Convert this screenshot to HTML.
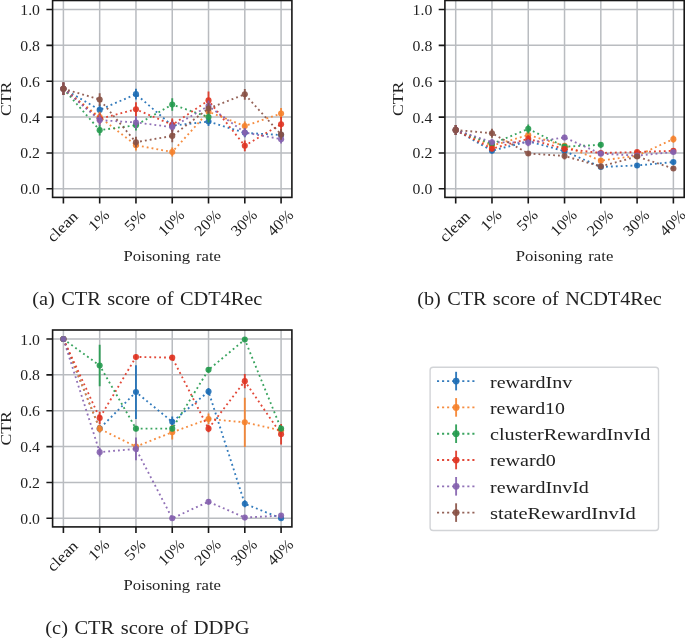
<!DOCTYPE html>
<html><head><meta charset="utf-8"><title>CTR score</title>
<style>html,body{margin:0;padding:0;background:#fff}svg{display:block}</style></head>
<body>
<svg width="685" height="639" viewBox="0 0 685 639" font-family="'Liberation Serif', serif" fill="#222">
<g transform="translate(0,0)">
<path d="M63.40 0.5V197.4M99.68 0.5V197.4M135.96 0.5V197.4M172.24 0.5V197.4M208.52 0.5V197.4M244.80 0.5V197.4M281.08 0.5V197.4M52.6 188.80H291.9M52.6 152.94H291.9M52.6 117.08H291.9M52.6 81.22H291.9M52.6 45.36H291.9M52.6 9.50H291.9" stroke="#b9bcc0" stroke-width="1.5" fill="none"/>
<g stroke="#1d6db5" fill="#1d6db5" stroke-opacity="0.9" fill-opacity="0.9">
<polyline points="63.40,88.75 99.68,109.91 135.96,94.13 172.24,125.69 208.52,121.56 244.80,132.86 281.08,135.01" fill="none" stroke-width="1.85" stroke-dasharray="1.85 3.05"/>
<path d="M63.40 82.48V95.03M99.68 104.53V115.29M135.96 88.75V99.51M172.24 120.31V131.07M208.52 117.08V126.05M244.80 128.38V137.34M281.08 130.53V139.49" stroke-width="1.9" fill="none"/>
<circle cx="63.40" cy="88.75" r="3.05" stroke="none"/>
<circle cx="99.68" cy="109.91" r="3.05" stroke="none"/>
<circle cx="135.96" cy="94.13" r="3.05" stroke="none"/>
<circle cx="172.24" cy="125.69" r="3.05" stroke="none"/>
<circle cx="208.52" cy="121.56" r="3.05" stroke="none"/>
<circle cx="244.80" cy="132.86" r="3.05" stroke="none"/>
<circle cx="281.08" cy="135.01" r="3.05" stroke="none"/>
</g>
<g stroke="#f5812b" fill="#f5812b" stroke-opacity="0.9" fill-opacity="0.9">
<polyline points="63.40,88.75 99.68,117.08 135.96,145.23 172.24,152.04 208.52,111.70 244.80,126.05 281.08,113.49" fill="none" stroke-width="1.85" stroke-dasharray="1.85 3.05"/>
<path d="M63.40 82.48V95.03M99.68 111.70V122.46M135.96 139.85V150.61M172.24 147.56V156.53M208.52 106.32V117.08M244.80 121.56V130.53M281.08 108.12V118.87" stroke-width="1.9" fill="none"/>
<circle cx="63.40" cy="88.75" r="3.05" stroke="none"/>
<circle cx="99.68" cy="117.08" r="3.05" stroke="none"/>
<circle cx="135.96" cy="145.23" r="3.05" stroke="none"/>
<circle cx="172.24" cy="152.04" r="3.05" stroke="none"/>
<circle cx="208.52" cy="111.70" r="3.05" stroke="none"/>
<circle cx="244.80" cy="126.05" r="3.05" stroke="none"/>
<circle cx="281.08" cy="113.49" r="3.05" stroke="none"/>
</g>
<g stroke="#249a4e" fill="#249a4e" stroke-opacity="0.9" fill-opacity="0.9">
<polyline points="63.40,88.75 99.68,130.17 135.96,125.15 172.24,104.53 208.52,117.08" fill="none" stroke-width="1.85" stroke-dasharray="1.85 3.05"/>
<path d="M63.40 82.48V95.03M99.68 124.79V135.55M135.96 119.77V130.53M172.24 98.25V110.80M208.52 111.70V122.46" stroke-width="1.9" fill="none"/>
<circle cx="63.40" cy="88.75" r="3.05" stroke="none"/>
<circle cx="99.68" cy="130.17" r="3.05" stroke="none"/>
<circle cx="135.96" cy="125.15" r="3.05" stroke="none"/>
<circle cx="172.24" cy="104.53" r="3.05" stroke="none"/>
<circle cx="208.52" cy="117.08" r="3.05" stroke="none"/>
</g>
<g stroke="#df3422" fill="#df3422" stroke-opacity="0.9" fill-opacity="0.9">
<polyline points="63.40,88.75 99.68,118.87 135.96,109.37 172.24,124.79 208.52,100.41 244.80,145.77 281.08,124.25" fill="none" stroke-width="1.85" stroke-dasharray="1.85 3.05"/>
<path d="M63.40 82.48V95.03M99.68 113.49V124.25M135.96 102.20V116.54M172.24 118.51V131.07M208.52 91.44V109.37M244.80 140.39V151.15M281.08 117.08V131.42" stroke-width="1.9" fill="none"/>
<circle cx="63.40" cy="88.75" r="3.05" stroke="none"/>
<circle cx="99.68" cy="118.87" r="3.05" stroke="none"/>
<circle cx="135.96" cy="109.37" r="3.05" stroke="none"/>
<circle cx="172.24" cy="124.79" r="3.05" stroke="none"/>
<circle cx="208.52" cy="100.41" r="3.05" stroke="none"/>
<circle cx="244.80" cy="145.77" r="3.05" stroke="none"/>
<circle cx="281.08" cy="124.25" r="3.05" stroke="none"/>
</g>
<g stroke="#8460ae" fill="#8460ae" stroke-opacity="0.9" fill-opacity="0.9">
<polyline points="63.40,88.75 99.68,120.13 135.96,122.46 172.24,127.12 208.52,105.96 244.80,132.50 281.08,139.13" fill="none" stroke-width="1.85" stroke-dasharray="1.85 3.05"/>
<path d="M63.40 82.48V95.03M99.68 114.75V125.51M135.96 116.18V128.73M172.24 121.74V132.50M208.52 100.58V111.34M244.80 128.02V136.98M281.08 134.65V143.62" stroke-width="1.9" fill="none"/>
<circle cx="63.40" cy="88.75" r="3.05" stroke="none"/>
<circle cx="99.68" cy="120.13" r="3.05" stroke="none"/>
<circle cx="135.96" cy="122.46" r="3.05" stroke="none"/>
<circle cx="172.24" cy="127.12" r="3.05" stroke="none"/>
<circle cx="208.52" cy="105.96" r="3.05" stroke="none"/>
<circle cx="244.80" cy="132.50" r="3.05" stroke="none"/>
<circle cx="281.08" cy="139.13" r="3.05" stroke="none"/>
</g>
<g stroke="#885145" fill="#885145" stroke-opacity="0.9" fill-opacity="0.9">
<polyline points="63.40,88.75 99.68,99.51 135.96,142.18 172.24,135.91 208.52,108.47 244.80,94.31 281.08,134.47" fill="none" stroke-width="1.85" stroke-dasharray="1.85 3.05"/>
<path d="M63.40 82.48V95.03M99.68 93.23V105.78M135.96 136.80V147.56M172.24 129.63V142.18M208.52 103.09V113.85M244.80 88.93V99.69M281.08 129.09V139.85" stroke-width="1.9" fill="none"/>
<circle cx="63.40" cy="88.75" r="3.05" stroke="none"/>
<circle cx="99.68" cy="99.51" r="3.05" stroke="none"/>
<circle cx="135.96" cy="142.18" r="3.05" stroke="none"/>
<circle cx="172.24" cy="135.91" r="3.05" stroke="none"/>
<circle cx="208.52" cy="108.47" r="3.05" stroke="none"/>
<circle cx="244.80" cy="94.31" r="3.05" stroke="none"/>
<circle cx="281.08" cy="134.47" r="3.05" stroke="none"/>
</g>
<rect x="52.6" y="0.5" width="239.30" height="196.90" fill="none" stroke="#181818" stroke-width="1.6"/>
<path d="M63.40 197.4v6.2M99.68 197.4v6.2M135.96 197.4v6.2M172.24 197.4v6.2M208.52 197.4v6.2M244.80 197.4v6.2M281.08 197.4v6.2M52.6 188.80h-6.2M52.6 152.94h-6.2M52.6 117.08h-6.2M52.6 81.22h-6.2M52.6 45.36h-6.2M52.6 9.50h-6.2" stroke="#181818" stroke-width="1.6" fill="none"/>
<text x="20.3" y="194.30" font-size="14.6" textLength="19.7" lengthAdjust="spacingAndGlyphs">0.0</text>
<text x="20.3" y="158.44" font-size="14.6" textLength="19.7" lengthAdjust="spacingAndGlyphs">0.2</text>
<text x="20.3" y="122.58" font-size="14.6" textLength="19.7" lengthAdjust="spacingAndGlyphs">0.4</text>
<text x="20.3" y="86.72" font-size="14.6" textLength="19.7" lengthAdjust="spacingAndGlyphs">0.6</text>
<text x="20.3" y="50.86" font-size="14.6" textLength="19.7" lengthAdjust="spacingAndGlyphs">0.8</text>
<text x="20.3" y="15.00" font-size="14.6" textLength="19.7" lengthAdjust="spacingAndGlyphs">1.0</text>
<text transform="translate(66.05,230.16) rotate(-45)" x="-18.19" font-size="15.4" textLength="36.38" lengthAdjust="spacingAndGlyphs">clean</text>
<text transform="translate(102.33,223.92) rotate(-45)" x="-11.50" font-size="15.4" textLength="22.99" lengthAdjust="spacingAndGlyphs">1%</text>
<text transform="translate(138.61,223.92) rotate(-45)" x="-11.50" font-size="15.4" textLength="22.99" lengthAdjust="spacingAndGlyphs">5%</text>
<text transform="translate(174.89,226.37) rotate(-45)" x="-14.96" font-size="15.4" textLength="29.92" lengthAdjust="spacingAndGlyphs">10%</text>
<text transform="translate(211.17,226.37) rotate(-45)" x="-14.96" font-size="15.4" textLength="29.92" lengthAdjust="spacingAndGlyphs">20%</text>
<text transform="translate(247.45,226.37) rotate(-45)" x="-14.96" font-size="15.4" textLength="29.92" lengthAdjust="spacingAndGlyphs">30%</text>
<text transform="translate(283.73,226.37) rotate(-45)" x="-14.96" font-size="15.4" textLength="29.92" lengthAdjust="spacingAndGlyphs">40%</text>
<text transform="translate(11,98.8) rotate(-90)" text-anchor="middle" font-size="15" textLength="34.2" lengthAdjust="spacingAndGlyphs">CTR</text>
<text x="123.4" y="260.7" font-size="14.3" word-spacing="1.5" textLength="97.6" lengthAdjust="spacingAndGlyphs">Poisoning rate</text>
</g>
<text x="32.2" y="304.6" font-size="19.8" word-spacing="1.3" textLength="230.2" lengthAdjust="spacingAndGlyphs">(a) CTR score of CDT4Rec</text>
<g transform="translate(392.3,0)">
<path d="M63.40 0.5V197.4M99.68 0.5V197.4M135.96 0.5V197.4M172.24 0.5V197.4M208.52 0.5V197.4M244.80 0.5V197.4M281.08 0.5V197.4M52.6 188.80H291.9M52.6 152.94H291.9M52.6 117.08H291.9M52.6 81.22H291.9M52.6 45.36H291.9M52.6 9.50H291.9" stroke="#b9bcc0" stroke-width="1.5" fill="none"/>
<g stroke="#1d6db5" fill="#1d6db5" stroke-opacity="0.9" fill-opacity="0.9">
<polyline points="63.40,129.99 99.68,150.79 135.96,141.29 172.24,151.15 208.52,166.93 244.80,165.49 281.08,162.08" fill="none" stroke-width="1.85" stroke-dasharray="1.85 3.05"/>
<path d="M63.40 124.97V135.01M99.68 148.10V153.48M135.96 138.60V143.98M172.24 148.46V153.84M208.52 164.77V169.08M244.80 163.34V167.64M281.08 159.93V164.24" stroke-width="1.9" fill="none"/>
<circle cx="63.40" cy="129.99" r="3.05" stroke="none"/>
<circle cx="99.68" cy="150.79" r="3.05" stroke="none"/>
<circle cx="135.96" cy="141.29" r="3.05" stroke="none"/>
<circle cx="172.24" cy="151.15" r="3.05" stroke="none"/>
<circle cx="208.52" cy="166.93" r="3.05" stroke="none"/>
<circle cx="244.80" cy="165.49" r="3.05" stroke="none"/>
<circle cx="281.08" cy="162.08" r="3.05" stroke="none"/>
</g>
<g stroke="#f5812b" fill="#f5812b" stroke-opacity="0.9" fill-opacity="0.9">
<polyline points="63.40,129.99 99.68,145.77 135.96,135.01 172.24,145.77 208.52,160.65 244.80,155.63 281.08,139.13" fill="none" stroke-width="1.85" stroke-dasharray="1.85 3.05"/>
<path d="M63.40 124.97V135.01M99.68 143.08V148.46M135.96 131.42V138.60M172.24 143.08V148.46M208.52 158.50V162.80M244.80 153.48V157.78M281.08 135.55V142.72" stroke-width="1.9" fill="none"/>
<circle cx="63.40" cy="129.99" r="3.05" stroke="none"/>
<circle cx="99.68" cy="145.77" r="3.05" stroke="none"/>
<circle cx="135.96" cy="135.01" r="3.05" stroke="none"/>
<circle cx="172.24" cy="145.77" r="3.05" stroke="none"/>
<circle cx="208.52" cy="160.65" r="3.05" stroke="none"/>
<circle cx="244.80" cy="155.63" r="3.05" stroke="none"/>
<circle cx="281.08" cy="139.13" r="3.05" stroke="none"/>
</g>
<g stroke="#249a4e" fill="#249a4e" stroke-opacity="0.9" fill-opacity="0.9">
<polyline points="63.40,129.99 99.68,143.98 135.96,128.91 172.24,146.66 208.52,144.87" fill="none" stroke-width="1.85" stroke-dasharray="1.85 3.05"/>
<path d="M63.40 124.97V135.01M99.68 141.29V146.66M135.96 124.43V133.40M172.24 143.98V149.35M208.52 142.18V147.56" stroke-width="1.9" fill="none"/>
<circle cx="63.40" cy="129.99" r="3.05" stroke="none"/>
<circle cx="99.68" cy="143.98" r="3.05" stroke="none"/>
<circle cx="135.96" cy="128.91" r="3.05" stroke="none"/>
<circle cx="172.24" cy="146.66" r="3.05" stroke="none"/>
<circle cx="208.52" cy="144.87" r="3.05" stroke="none"/>
</g>
<g stroke="#df3422" fill="#df3422" stroke-opacity="0.9" fill-opacity="0.9">
<polyline points="63.40,129.99 99.68,148.64 135.96,138.78 172.24,149.00 208.52,152.94 244.80,152.04 281.08,150.79" fill="none" stroke-width="1.85" stroke-dasharray="1.85 3.05"/>
<path d="M63.40 124.97V135.01M99.68 145.95V151.33M135.96 135.19V142.36M172.24 146.31V151.68M208.52 150.79V155.09M244.80 149.89V154.20M281.08 148.64V152.94" stroke-width="1.9" fill="none"/>
<circle cx="63.40" cy="129.99" r="3.05" stroke="none"/>
<circle cx="99.68" cy="148.64" r="3.05" stroke="none"/>
<circle cx="135.96" cy="138.78" r="3.05" stroke="none"/>
<circle cx="172.24" cy="149.00" r="3.05" stroke="none"/>
<circle cx="208.52" cy="152.94" r="3.05" stroke="none"/>
<circle cx="244.80" cy="152.04" r="3.05" stroke="none"/>
<circle cx="281.08" cy="150.79" r="3.05" stroke="none"/>
</g>
<g stroke="#8460ae" fill="#8460ae" stroke-opacity="0.9" fill-opacity="0.9">
<polyline points="63.40,129.99 99.68,142.18 135.96,142.72 172.24,137.52 208.52,153.66 244.80,155.63 281.08,152.04" fill="none" stroke-width="1.85" stroke-dasharray="1.85 3.05"/>
<path d="M63.40 124.97V135.01M99.68 139.49V144.87M135.96 139.13V146.31M172.24 134.83V140.21M208.52 151.51V155.81M244.80 153.48V157.78M281.08 149.89V154.20" stroke-width="1.9" fill="none"/>
<circle cx="63.40" cy="129.99" r="3.05" stroke="none"/>
<circle cx="99.68" cy="142.18" r="3.05" stroke="none"/>
<circle cx="135.96" cy="142.72" r="3.05" stroke="none"/>
<circle cx="172.24" cy="137.52" r="3.05" stroke="none"/>
<circle cx="208.52" cy="153.66" r="3.05" stroke="none"/>
<circle cx="244.80" cy="155.63" r="3.05" stroke="none"/>
<circle cx="281.08" cy="152.04" r="3.05" stroke="none"/>
</g>
<g stroke="#885145" fill="#885145" stroke-opacity="0.9" fill-opacity="0.9">
<polyline points="63.40,129.99 99.68,133.22 135.96,153.48 172.24,155.99 208.52,166.39 244.80,156.53 281.08,168.54" fill="none" stroke-width="1.85" stroke-dasharray="1.85 3.05"/>
<path d="M63.40 124.97V135.01M99.68 128.73V137.70M135.96 151.33V155.63M172.24 152.40V159.57M208.52 164.24V168.54M244.80 154.37V158.68M281.08 166.39V170.69" stroke-width="1.9" fill="none"/>
<circle cx="63.40" cy="129.99" r="3.05" stroke="none"/>
<circle cx="99.68" cy="133.22" r="3.05" stroke="none"/>
<circle cx="135.96" cy="153.48" r="3.05" stroke="none"/>
<circle cx="172.24" cy="155.99" r="3.05" stroke="none"/>
<circle cx="208.52" cy="166.39" r="3.05" stroke="none"/>
<circle cx="244.80" cy="156.53" r="3.05" stroke="none"/>
<circle cx="281.08" cy="168.54" r="3.05" stroke="none"/>
</g>
<rect x="52.6" y="0.5" width="239.30" height="196.90" fill="none" stroke="#181818" stroke-width="1.6"/>
<path d="M63.40 197.4v6.2M99.68 197.4v6.2M135.96 197.4v6.2M172.24 197.4v6.2M208.52 197.4v6.2M244.80 197.4v6.2M281.08 197.4v6.2M52.6 188.80h-6.2M52.6 152.94h-6.2M52.6 117.08h-6.2M52.6 81.22h-6.2M52.6 45.36h-6.2M52.6 9.50h-6.2" stroke="#181818" stroke-width="1.6" fill="none"/>
<text x="20.3" y="194.30" font-size="14.6" textLength="19.7" lengthAdjust="spacingAndGlyphs">0.0</text>
<text x="20.3" y="158.44" font-size="14.6" textLength="19.7" lengthAdjust="spacingAndGlyphs">0.2</text>
<text x="20.3" y="122.58" font-size="14.6" textLength="19.7" lengthAdjust="spacingAndGlyphs">0.4</text>
<text x="20.3" y="86.72" font-size="14.6" textLength="19.7" lengthAdjust="spacingAndGlyphs">0.6</text>
<text x="20.3" y="50.86" font-size="14.6" textLength="19.7" lengthAdjust="spacingAndGlyphs">0.8</text>
<text x="20.3" y="15.00" font-size="14.6" textLength="19.7" lengthAdjust="spacingAndGlyphs">1.0</text>
<text transform="translate(66.05,230.16) rotate(-45)" x="-18.19" font-size="15.4" textLength="36.38" lengthAdjust="spacingAndGlyphs">clean</text>
<text transform="translate(102.33,223.92) rotate(-45)" x="-11.50" font-size="15.4" textLength="22.99" lengthAdjust="spacingAndGlyphs">1%</text>
<text transform="translate(138.61,223.92) rotate(-45)" x="-11.50" font-size="15.4" textLength="22.99" lengthAdjust="spacingAndGlyphs">5%</text>
<text transform="translate(174.89,226.37) rotate(-45)" x="-14.96" font-size="15.4" textLength="29.92" lengthAdjust="spacingAndGlyphs">10%</text>
<text transform="translate(211.17,226.37) rotate(-45)" x="-14.96" font-size="15.4" textLength="29.92" lengthAdjust="spacingAndGlyphs">20%</text>
<text transform="translate(247.45,226.37) rotate(-45)" x="-14.96" font-size="15.4" textLength="29.92" lengthAdjust="spacingAndGlyphs">30%</text>
<text transform="translate(283.73,226.37) rotate(-45)" x="-14.96" font-size="15.4" textLength="29.92" lengthAdjust="spacingAndGlyphs">40%</text>
<text transform="translate(11,98.8) rotate(-90)" text-anchor="middle" font-size="15" textLength="34.2" lengthAdjust="spacingAndGlyphs">CTR</text>
<text x="123.4" y="260.7" font-size="14.3" word-spacing="1.5" textLength="97.6" lengthAdjust="spacingAndGlyphs">Poisoning rate</text>
</g>
<text x="417.2" y="304.6" font-size="19.8" word-spacing="1.3" textLength="244.6" lengthAdjust="spacingAndGlyphs">(b) CTR score of NCDT4Rec</text>
<g transform="translate(0,329.5)">
<path d="M63.40 0.5V197.4M99.68 0.5V197.4M135.96 0.5V197.4M172.24 0.5V197.4M208.52 0.5V197.4M244.80 0.5V197.4M281.08 0.5V197.4M52.6 188.80H291.9M52.6 152.94H291.9M52.6 117.08H291.9M52.6 81.22H291.9M52.6 45.36H291.9M52.6 9.50H291.9" stroke="#b9bcc0" stroke-width="1.5" fill="none"/>
<g stroke="#1d6db5" fill="#1d6db5" stroke-opacity="0.9" fill-opacity="0.9">
<polyline points="63.40,9.50 99.68,99.15 135.96,62.57 172.24,92.34 208.52,62.03 244.80,174.28 281.08,188.80" fill="none" stroke-width="1.85" stroke-dasharray="1.85 3.05"/>
<path d="M99.68 95.56V102.74M135.96 35.68V89.47M172.24 86.96V97.72M208.52 58.45V65.62M244.80 170.69V177.86M281.08 187.01V190.59" stroke-width="1.9" fill="none"/>
<circle cx="63.40" cy="9.50" r="3.05" stroke="none"/>
<circle cx="99.68" cy="99.15" r="3.05" stroke="none"/>
<circle cx="135.96" cy="62.57" r="3.05" stroke="none"/>
<circle cx="172.24" cy="92.34" r="3.05" stroke="none"/>
<circle cx="208.52" cy="62.03" r="3.05" stroke="none"/>
<circle cx="244.80" cy="174.28" r="3.05" stroke="none"/>
<circle cx="281.08" cy="188.80" r="3.05" stroke="none"/>
</g>
<g stroke="#f5812b" fill="#f5812b" stroke-opacity="0.9" fill-opacity="0.9">
<polyline points="63.40,9.50 99.68,99.33 135.96,117.08 172.24,102.74 208.52,89.47 244.80,92.87 281.08,100.94" fill="none" stroke-width="1.85" stroke-dasharray="1.85 3.05"/>
<path d="M99.68 95.74V102.92M135.96 111.70V122.46M172.24 95.56V109.91M208.52 84.09V94.85M244.80 68.31V117.44M281.08 97.36V104.53" stroke-width="1.9" fill="none"/>
<circle cx="63.40" cy="9.50" r="3.05" stroke="none"/>
<circle cx="99.68" cy="99.33" r="3.05" stroke="none"/>
<circle cx="135.96" cy="117.08" r="3.05" stroke="none"/>
<circle cx="172.24" cy="102.74" r="3.05" stroke="none"/>
<circle cx="208.52" cy="89.47" r="3.05" stroke="none"/>
<circle cx="244.80" cy="92.87" r="3.05" stroke="none"/>
<circle cx="281.08" cy="100.94" r="3.05" stroke="none"/>
</g>
<g stroke="#df3422" fill="#df3422" stroke-opacity="0.9" fill-opacity="0.9">
<polyline points="63.40,9.50 99.68,88.57 135.96,27.43 172.24,28.15 208.52,99.15 244.80,51.64 281.08,104.71" fill="none" stroke-width="1.85" stroke-dasharray="1.85 3.05"/>
<path d="M99.68 82.30V94.85M135.96 24.74V30.12M172.24 25.46V30.84M208.52 95.56V102.74M244.80 44.46V58.81M281.08 94.49V114.93" stroke-width="1.9" fill="none"/>
<circle cx="63.40" cy="9.50" r="3.05" stroke="none"/>
<circle cx="99.68" cy="88.57" r="3.05" stroke="none"/>
<circle cx="135.96" cy="27.43" r="3.05" stroke="none"/>
<circle cx="172.24" cy="28.15" r="3.05" stroke="none"/>
<circle cx="208.52" cy="99.15" r="3.05" stroke="none"/>
<circle cx="244.80" cy="51.64" r="3.05" stroke="none"/>
<circle cx="281.08" cy="104.71" r="3.05" stroke="none"/>
</g>
<g stroke="#249a4e" fill="#249a4e" stroke-opacity="0.9" fill-opacity="0.9">
<polyline points="63.40,9.50 99.68,36.04 135.96,99.15 172.24,99.15 208.52,40.34 244.80,10.04 281.08,99.15" fill="none" stroke-width="1.85" stroke-dasharray="1.85 3.05"/>
<path d="M99.68 15.24V56.84M135.96 96.46V101.84M172.24 96.46V101.84M208.52 37.65V43.03M244.80 8.24V11.83M281.08 97.36V100.94" stroke-width="1.9" fill="none"/>
<circle cx="63.40" cy="9.50" r="3.05" stroke="none"/>
<circle cx="99.68" cy="36.04" r="3.05" stroke="none"/>
<circle cx="135.96" cy="99.15" r="3.05" stroke="none"/>
<circle cx="172.24" cy="99.15" r="3.05" stroke="none"/>
<circle cx="208.52" cy="40.34" r="3.05" stroke="none"/>
<circle cx="244.80" cy="10.04" r="3.05" stroke="none"/>
<circle cx="281.08" cy="99.15" r="3.05" stroke="none"/>
</g>
<g stroke="#8460ae" fill="#8460ae" stroke-opacity="0.9" fill-opacity="0.9">
<polyline points="63.40,9.50 99.68,122.64 135.96,119.41 172.24,188.80 208.52,172.20 244.80,188.08 281.08,186.11" fill="none" stroke-width="1.85" stroke-dasharray="1.85 3.05"/>
<path d="M99.68 118.16V127.12M135.96 108.12V130.71M172.24 187.01V190.59M208.52 169.51V174.89M244.80 186.29V189.88M281.08 184.32V187.90" stroke-width="1.9" fill="none"/>
<circle cx="63.40" cy="9.50" r="3.05" stroke="none"/>
<circle cx="99.68" cy="122.64" r="3.05" stroke="none"/>
<circle cx="135.96" cy="119.41" r="3.05" stroke="none"/>
<circle cx="172.24" cy="188.80" r="3.05" stroke="none"/>
<circle cx="208.52" cy="172.20" r="3.05" stroke="none"/>
<circle cx="244.80" cy="188.08" r="3.05" stroke="none"/>
<circle cx="281.08" cy="186.11" r="3.05" stroke="none"/>
</g>
<rect x="52.6" y="0.5" width="239.30" height="196.90" fill="none" stroke="#181818" stroke-width="1.6"/>
<path d="M63.40 197.4v6.2M99.68 197.4v6.2M135.96 197.4v6.2M172.24 197.4v6.2M208.52 197.4v6.2M244.80 197.4v6.2M281.08 197.4v6.2M52.6 188.80h-6.2M52.6 152.94h-6.2M52.6 117.08h-6.2M52.6 81.22h-6.2M52.6 45.36h-6.2M52.6 9.50h-6.2" stroke="#181818" stroke-width="1.6" fill="none"/>
<text x="20.3" y="194.30" font-size="14.6" textLength="19.7" lengthAdjust="spacingAndGlyphs">0.0</text>
<text x="20.3" y="158.44" font-size="14.6" textLength="19.7" lengthAdjust="spacingAndGlyphs">0.2</text>
<text x="20.3" y="122.58" font-size="14.6" textLength="19.7" lengthAdjust="spacingAndGlyphs">0.4</text>
<text x="20.3" y="86.72" font-size="14.6" textLength="19.7" lengthAdjust="spacingAndGlyphs">0.6</text>
<text x="20.3" y="50.86" font-size="14.6" textLength="19.7" lengthAdjust="spacingAndGlyphs">0.8</text>
<text x="20.3" y="15.00" font-size="14.6" textLength="19.7" lengthAdjust="spacingAndGlyphs">1.0</text>
<text transform="translate(66.05,230.16) rotate(-45)" x="-18.19" font-size="15.4" textLength="36.38" lengthAdjust="spacingAndGlyphs">clean</text>
<text transform="translate(102.33,223.92) rotate(-45)" x="-11.50" font-size="15.4" textLength="22.99" lengthAdjust="spacingAndGlyphs">1%</text>
<text transform="translate(138.61,223.92) rotate(-45)" x="-11.50" font-size="15.4" textLength="22.99" lengthAdjust="spacingAndGlyphs">5%</text>
<text transform="translate(174.89,226.37) rotate(-45)" x="-14.96" font-size="15.4" textLength="29.92" lengthAdjust="spacingAndGlyphs">10%</text>
<text transform="translate(211.17,226.37) rotate(-45)" x="-14.96" font-size="15.4" textLength="29.92" lengthAdjust="spacingAndGlyphs">20%</text>
<text transform="translate(247.45,226.37) rotate(-45)" x="-14.96" font-size="15.4" textLength="29.92" lengthAdjust="spacingAndGlyphs">30%</text>
<text transform="translate(283.73,226.37) rotate(-45)" x="-14.96" font-size="15.4" textLength="29.92" lengthAdjust="spacingAndGlyphs">40%</text>
<text transform="translate(11,98.8) rotate(-90)" text-anchor="middle" font-size="15" textLength="34.2" lengthAdjust="spacingAndGlyphs">CTR</text>
<text x="123.4" y="260.7" font-size="14.3" word-spacing="1.5" textLength="97.6" lengthAdjust="spacingAndGlyphs">Poisoning rate</text>
</g>
<text x="45.3" y="634.3" font-size="19.8" word-spacing="1.3" textLength="204.2" lengthAdjust="spacingAndGlyphs">(c) CTR score of DDPG</text>
<rect x="430.1" y="367.2" width="228.4" height="163.3" rx="3" ry="3" fill="#fff" stroke="#d2d4d7" stroke-width="1.4"/>
<g stroke="#1d6db5" fill="#1d6db5" stroke-opacity="0.9" fill-opacity="0.9">
<path d="M437 381.10H475" fill="none" stroke-width="1.85" stroke-dasharray="2.1 2.95"/>
<path d="M456.1 371.80V390.40" fill="none" stroke-width="1.9"/>
<circle cx="456.1" cy="381.10" r="3.35" stroke="none"/>
</g>
<text x="490.0" y="387.50" font-size="17.4" textLength="82.3" lengthAdjust="spacingAndGlyphs">rewardInv</text>
<g stroke="#f5812b" fill="#f5812b" stroke-opacity="0.9" fill-opacity="0.9">
<path d="M437 407.40H475" fill="none" stroke-width="1.85" stroke-dasharray="2.1 2.95"/>
<path d="M456.1 398.10V416.70" fill="none" stroke-width="1.9"/>
<circle cx="456.1" cy="407.40" r="3.35" stroke="none"/>
</g>
<text x="490.0" y="413.80" font-size="17.4" textLength="74.9" lengthAdjust="spacingAndGlyphs">reward10</text>
<g stroke="#249a4e" fill="#249a4e" stroke-opacity="0.9" fill-opacity="0.9">
<path d="M437 433.70H475" fill="none" stroke-width="1.85" stroke-dasharray="2.1 2.95"/>
<path d="M456.1 424.40V443.00" fill="none" stroke-width="1.9"/>
<circle cx="456.1" cy="433.70" r="3.35" stroke="none"/>
</g>
<text x="490.0" y="440.10" font-size="17.4" textLength="160.3" lengthAdjust="spacingAndGlyphs">clusterRewardInvId</text>
<g stroke="#df3422" fill="#df3422" stroke-opacity="0.9" fill-opacity="0.9">
<path d="M437 460.00H475" fill="none" stroke-width="1.85" stroke-dasharray="2.1 2.95"/>
<path d="M456.1 450.70V469.30" fill="none" stroke-width="1.9"/>
<circle cx="456.1" cy="460.00" r="3.35" stroke="none"/>
</g>
<text x="490.0" y="466.40" font-size="17.4" textLength="65.7" lengthAdjust="spacingAndGlyphs">reward0</text>
<g stroke="#8460ae" fill="#8460ae" stroke-opacity="0.9" fill-opacity="0.9">
<path d="M437 486.30H475" fill="none" stroke-width="1.85" stroke-dasharray="2.1 2.95"/>
<path d="M456.1 477.00V495.60" fill="none" stroke-width="1.9"/>
<circle cx="456.1" cy="486.30" r="3.35" stroke="none"/>
</g>
<text x="490.0" y="492.70" font-size="17.4" textLength="98.8" lengthAdjust="spacingAndGlyphs">rewardInvId</text>
<g stroke="#885145" fill="#885145" stroke-opacity="0.9" fill-opacity="0.9">
<path d="M437 512.60H475" fill="none" stroke-width="1.85" stroke-dasharray="2.1 2.95"/>
<path d="M456.1 503.30V521.90" fill="none" stroke-width="1.9"/>
<circle cx="456.1" cy="512.60" r="3.35" stroke="none"/>
</g>
<text x="490.0" y="519.00" font-size="17.4" textLength="145.8" lengthAdjust="spacingAndGlyphs">stateRewardInvId</text>
</svg>
</body></html>
